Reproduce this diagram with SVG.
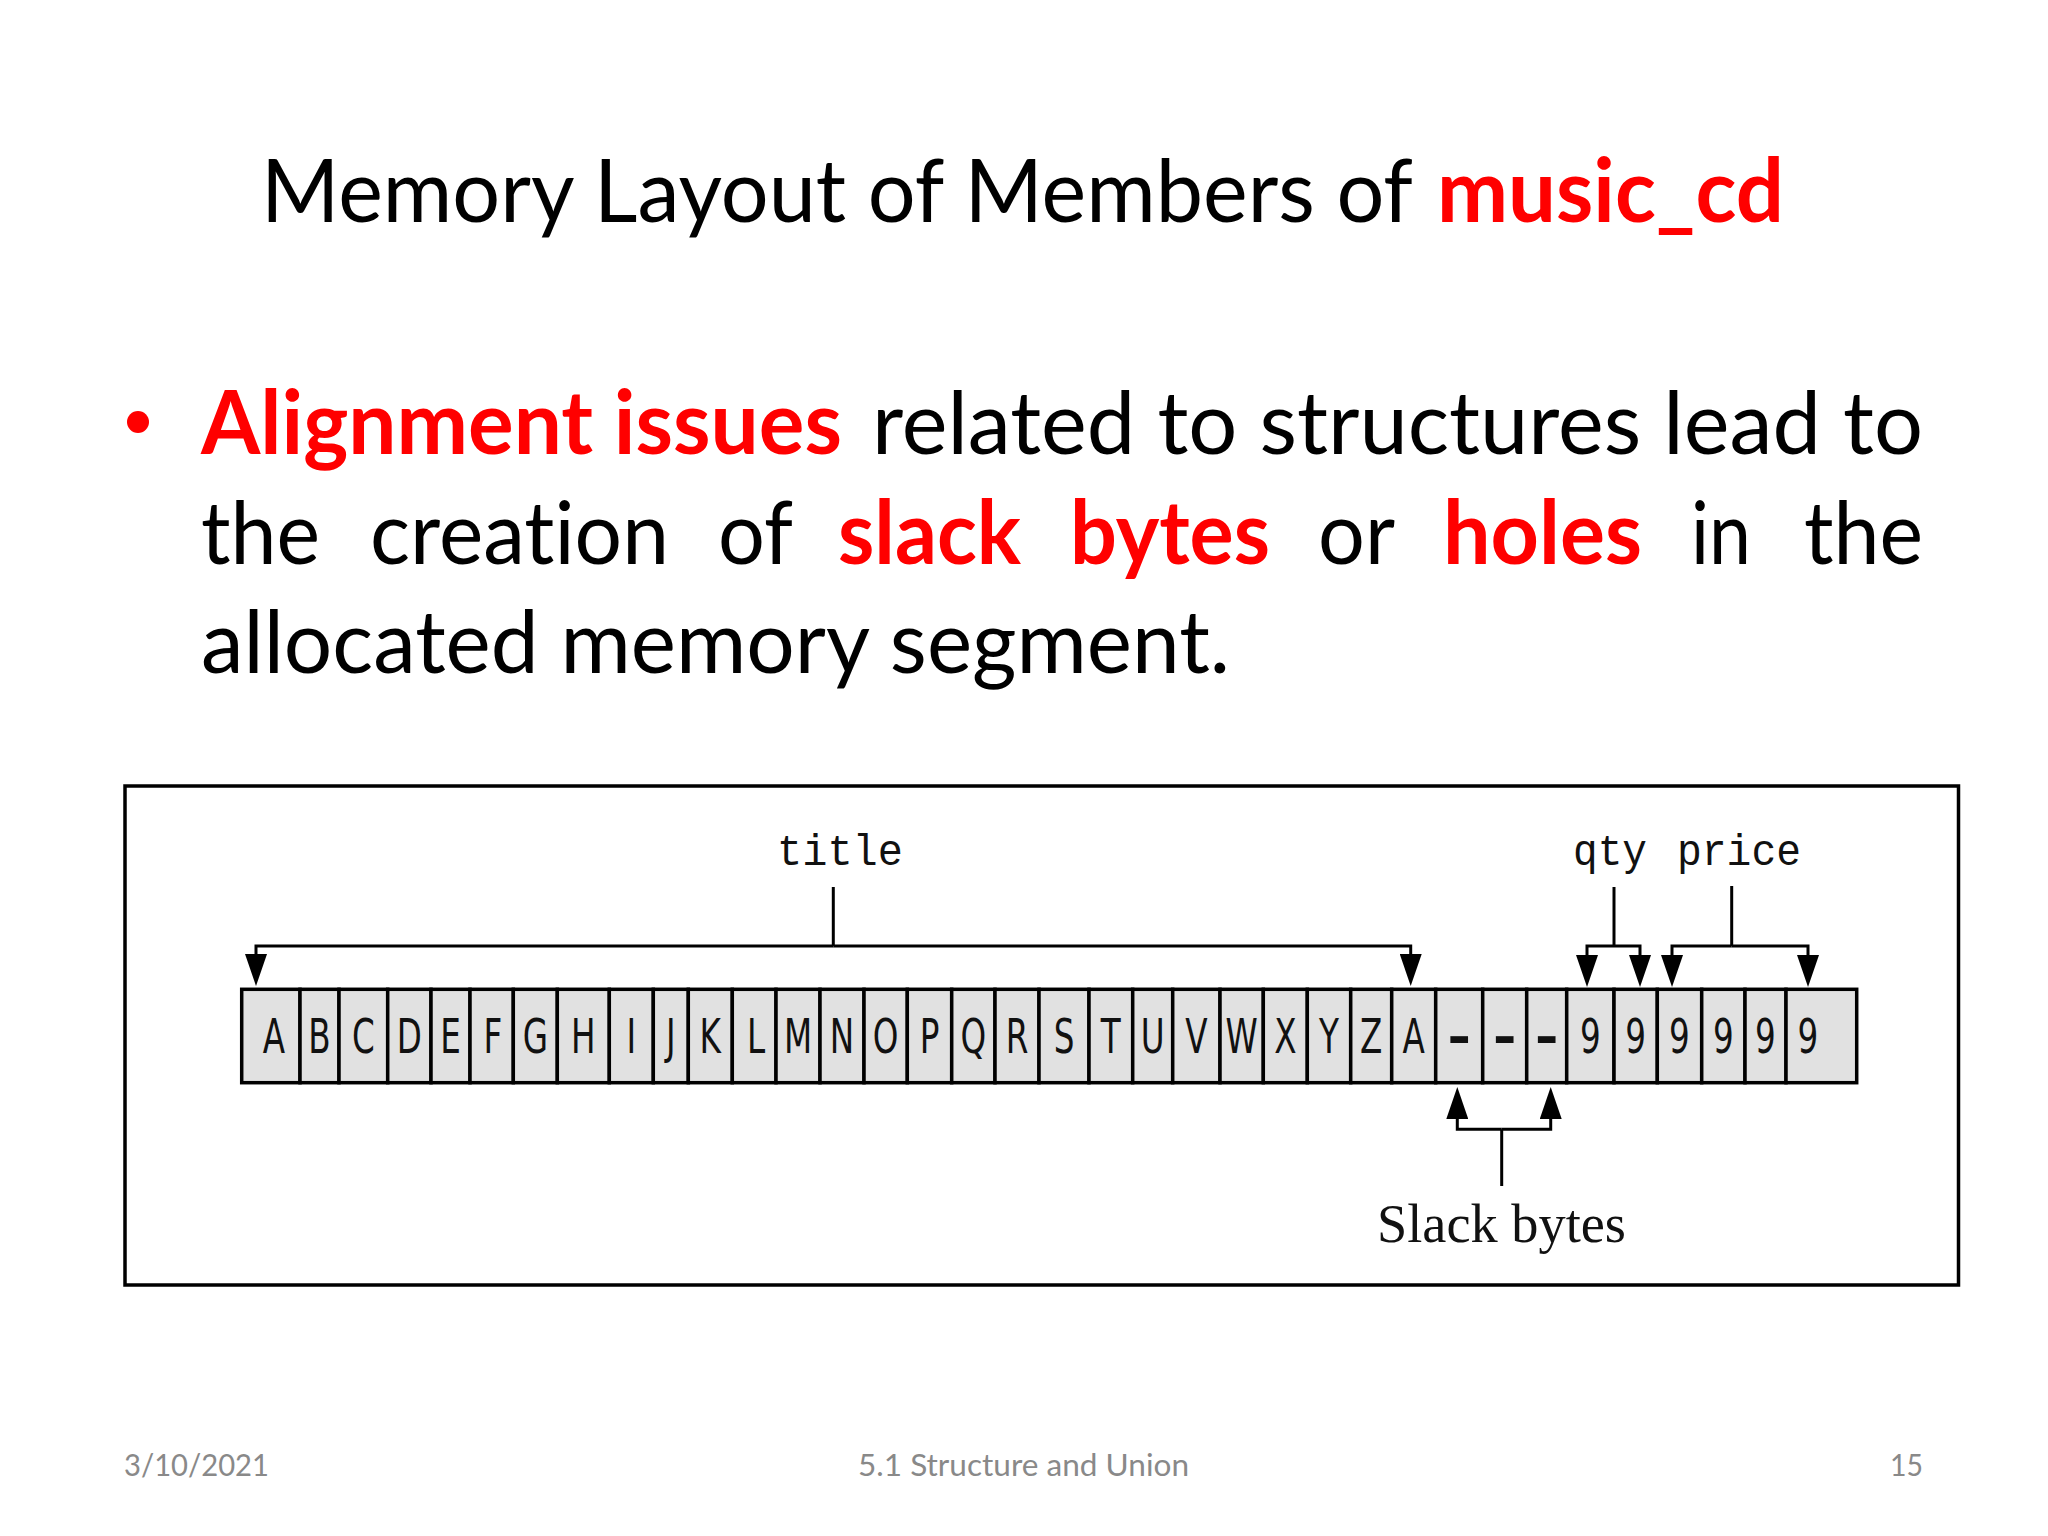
<svg xmlns="http://www.w3.org/2000/svg" width="2048" height="1536" viewBox="0 0 2048 1536">
<defs>
<style>
.head{font-family:Lato,"Open Sans","Liberation Sans",sans-serif;font-size:88px;fill:#000;font-variant-ligatures:none;font-feature-settings:"liga" 0,"clig" 0,"dlig" 0}
.red{fill:#ff0000;font-weight:bold}
.foot{font-family:Lato,"Open Sans","Liberation Sans",sans-serif;font-size:30px;fill:#898989}
.cell rect{fill:#e1e1e1;stroke:#000;stroke-width:3.5}
.cell text{font-family:"DejaVu Sans","Liberation Sans",sans-serif;font-size:48px;fill:#111;text-anchor:middle}
.cell text.d{font-weight:bold}
.lbl{font-family:"Liberation Mono","DejaVu Sans Mono",monospace;font-size:44px;fill:#111}
.slack{font-family:"Liberation Serif","DejaVu Serif",serif;font-size:54px;fill:#111}
.ln{fill:none;stroke:#000;stroke-width:3}
.ar{fill:#000}
</style>
<marker id="arw" viewBox="0 0 32 22" refX="22" refY="11" markerWidth="32" markerHeight="22" markerUnits="userSpaceOnUse" orient="auto">
<path d="M0,0 L32,11 L0,22 Z" class="ar"/>
</marker>
</defs>
<rect width="2048" height="1536" fill="#fff"/>

<g id="heading">
<text class="head" x="261" y="222" textLength="1152" lengthAdjust="spacingAndGlyphs">Memory Layout of Members of</text>
<text class="head red" x="1437" y="222" textLength="347" lengthAdjust="spacingAndGlyphs">music_cd</text>
</g>

<g id="bullet-text">
<circle cx="138" cy="422" r="11" fill="#ff0000"/>
<text class="head red" x="201" y="454" textLength="641" lengthAdjust="spacingAndGlyphs">Alignment issues</text>
<text class="head" x="872" y="454" textLength="1051" lengthAdjust="spacingAndGlyphs">related to structures lead to</text>
<text class="head" x="201" y="564" textLength="119" lengthAdjust="spacingAndGlyphs">the</text>
<text class="head" x="370" y="564" textLength="299" lengthAdjust="spacingAndGlyphs">creation</text>
<text class="head" x="718" y="564" textLength="75" lengthAdjust="spacingAndGlyphs">of</text>
<text class="head red" x="838" y="564" textLength="183" lengthAdjust="spacingAndGlyphs">slack</text>
<text class="head red" x="1070" y="564" textLength="200" lengthAdjust="spacingAndGlyphs">bytes</text>
<text class="head" x="1318" y="564" textLength="77" lengthAdjust="spacingAndGlyphs">or</text>
<text class="head red" x="1443" y="564" textLength="199" lengthAdjust="spacingAndGlyphs">holes</text>
<text class="head" x="1691" y="564" textLength="60" lengthAdjust="spacingAndGlyphs">in</text>
<text class="head" x="1804" y="564" textLength="119" lengthAdjust="spacingAndGlyphs">the</text>
<text class="head" x="201" y="673" textLength="1029" lengthAdjust="spacingAndGlyphs">allocated memory segment.</text>
</g>

<rect id="frame" x="125" y="786" width="1833.5" height="499" fill="none" stroke="#000" stroke-width="3.5"/>

<g id="cells">
<g class="cell" id="c1"><rect x="241.7" y="989.3" width="58.3" height="93.4"/><text transform="translate(274 1053) scale(0.68 1)">A</text></g>
<g class="cell" id="c2"><rect x="300" y="989.3" width="39" height="93.4"/><text transform="translate(319.5 1053) scale(0.68 1)">B</text></g>
<g class="cell" id="c3"><rect x="339" y="989.3" width="48.7" height="93.4"/><text transform="translate(363.3 1053) scale(0.68 1)">C</text></g>
<g class="cell" id="c4"><rect x="387.7" y="989.3" width="43.3" height="93.4"/><text transform="translate(409.3 1053) scale(0.68 1)">D</text></g>
<g class="cell" id="c5"><rect x="431" y="989.3" width="39" height="93.4"/><text transform="translate(450.5 1053) scale(0.68 1)">E</text></g>
<g class="cell" id="c6"><rect x="470" y="989.3" width="43.3" height="93.4"/><text transform="translate(493 1053) scale(0.68 1)">F</text></g>
<g class="cell" id="c7"><rect x="513.3" y="989.3" width="44" height="93.4"/><text transform="translate(535.3 1053) scale(0.68 1)">G</text></g>
<g class="cell" id="c8"><rect x="557.3" y="989.3" width="52" height="93.4"/><text transform="translate(583.3 1053) scale(0.68 1)">H</text></g>
<g class="cell" id="c9"><rect x="609.3" y="989.3" width="44" height="93.4"/><text transform="translate(631.3 1053) scale(0.68 1)">I</text></g>
<g class="cell" id="c10"><rect x="653.3" y="989.3" width="35" height="93.4"/><text transform="translate(670.8 1053) scale(0.68 1)">J</text></g>
<g class="cell" id="c11"><rect x="688.3" y="989.3" width="44" height="93.4"/><text transform="translate(710.3 1053) scale(0.68 1)">K</text></g>
<g class="cell" id="c12"><rect x="732.3" y="989.3" width="43.7" height="93.4"/><text transform="translate(756 1053) scale(0.68 1)">L</text></g>
<g class="cell" id="c13"><rect x="776" y="989.3" width="44" height="93.4"/><text transform="translate(798 1053) scale(0.68 1)">M</text></g>
<g class="cell" id="c14"><rect x="820" y="989.3" width="44" height="93.4"/><text transform="translate(842 1053) scale(0.68 1)">N</text></g>
<g class="cell" id="c15"><rect x="864" y="989.3" width="43.3" height="93.4"/><text transform="translate(885.7 1053) scale(0.68 1)">O</text></g>
<g class="cell" id="c16"><rect x="907.3" y="989.3" width="44.4" height="93.4"/><text transform="translate(929.5 1053) scale(0.68 1)">P</text></g>
<g class="cell" id="c17"><rect x="951.7" y="989.3" width="43.3" height="93.4"/><text transform="translate(973.3 1053) scale(0.68 1)">Q</text></g>
<g class="cell" id="c18"><rect x="995" y="989.3" width="44" height="93.4"/><text transform="translate(1017 1053) scale(0.68 1)">R</text></g>
<g class="cell" id="c19"><rect x="1039" y="989.3" width="50" height="93.4"/><text transform="translate(1064 1053) scale(0.68 1)">S</text></g>
<g class="cell" id="c20"><rect x="1089" y="989.3" width="43.7" height="93.4"/><text transform="translate(1110.8 1053) scale(0.68 1)">T</text></g>
<g class="cell" id="c21"><rect x="1132.7" y="989.3" width="40" height="93.4"/><text transform="translate(1152.7 1053) scale(0.68 1)">U</text></g>
<g class="cell" id="c22"><rect x="1172.7" y="989.3" width="47.3" height="93.4"/><text transform="translate(1196.3 1053) scale(0.68 1)">V</text></g>
<g class="cell" id="c23"><rect x="1220" y="989.3" width="43.3" height="93.4"/><text transform="translate(1241.7 1053) scale(0.68 1)">W</text></g>
<g class="cell" id="c24"><rect x="1263.3" y="989.3" width="44" height="93.4"/><text transform="translate(1285.3 1053) scale(0.68 1)">X</text></g>
<g class="cell" id="c25"><rect x="1307.3" y="989.3" width="43.4" height="93.4"/><text transform="translate(1329 1053) scale(0.68 1)">Y</text></g>
<g class="cell" id="c26"><rect x="1350.7" y="989.3" width="41" height="93.4"/><text transform="translate(1371.2 1053) scale(0.68 1)">Z</text></g>
<g class="cell" id="c27"><rect x="1391.7" y="989.3" width="44" height="93.4"/><text transform="translate(1413.7 1053) scale(0.68 1)">A</text></g>
<g class="cell" id="c28"><rect x="1435.7" y="989.3" width="47" height="93.4"/><text class="d" transform="translate(1459.2 1053) scale(1.2 1)">-</text></g>
<g class="cell" id="c29"><rect x="1482.7" y="989.3" width="44" height="93.4"/><text class="d" transform="translate(1504.7 1053) scale(1.2 1)">-</text></g>
<g class="cell" id="c30"><rect x="1526.7" y="989.3" width="40" height="93.4"/><text class="d" transform="translate(1546.7 1053) scale(1.2 1)">-</text></g>
<g class="cell" id="c31"><rect x="1566.7" y="989.3" width="47.3" height="93.4"/><text transform="translate(1590.3 1053) scale(0.68 1)">9</text></g>
<g class="cell" id="c32"><rect x="1614" y="989.3" width="43.3" height="93.4"/><text transform="translate(1635.7 1053) scale(0.68 1)">9</text></g>
<g class="cell" id="c33"><rect x="1657.3" y="989.3" width="44.4" height="93.4"/><text transform="translate(1679.5 1053) scale(0.68 1)">9</text></g>
<g class="cell" id="c34"><rect x="1701.7" y="989.3" width="43.3" height="93.4"/><text transform="translate(1723.3 1053) scale(0.68 1)">9</text></g>
<g class="cell" id="c35"><rect x="1745" y="989.3" width="41" height="93.4"/><text transform="translate(1765.5 1053) scale(0.68 1)">9</text></g>
<g class="cell" id="c36"><rect x="1786" y="989.3" width="70.7" height="93.4"/><text transform="translate(1808 1053) scale(0.68 1)">9</text></g>
</g>

<g id="label-title"><text class="lbl" x="777" y="865" textLength="126" lengthAdjust="spacingAndGlyphs">title</text></g>
<g id="label-qty"><text class="lbl" x="1573" y="865" textLength="74" lengthAdjust="spacingAndGlyphs">qty</text></g>
<g id="label-price"><text class="lbl" x="1677" y="865" textLength="124" lengthAdjust="spacingAndGlyphs">price</text></g>
<g id="label-slack"><text class="slack" x="1377" y="1242" textLength="249" lengthAdjust="spacingAndGlyphs">Slack bytes</text></g>

<g id="connectors">
<path class="ln" d="M833.3,887 V946"/>
<path class="ln" d="M833.3,946 H256 V976" marker-end="url(#arw)"/>
<path class="ln" d="M833.3,946 H1410.7 V976" marker-end="url(#arw)"/>
<path class="ln" d="M1614,887 V946"/>
<path class="ln" d="M1614,946 H1587 V977" marker-end="url(#arw)"/>
<path class="ln" d="M1614,946 H1640 V977" marker-end="url(#arw)"/>
<path class="ln" d="M1731.7,886 V946"/>
<path class="ln" d="M1731.7,946 H1672 V977" marker-end="url(#arw)"/>
<path class="ln" d="M1731.7,946 H1808 V977" marker-end="url(#arw)"/>
<path class="ln" d="M1501.7,1186 V1129.3"/>
<path class="ln" d="M1501.7,1129.3 H1457.3 V1097" marker-end="url(#arw)"/>
<path class="ln" d="M1501.7,1129.3 H1550.7 V1097" marker-end="url(#arw)"/>
</g>

<g id="footer">
<text class="foot" x="124" y="1476" textLength="145" lengthAdjust="spacingAndGlyphs">3/10/2021</text>
<text class="foot" x="858" y="1476" textLength="331" lengthAdjust="spacingAndGlyphs">5.1 Structure and Union</text>
<text class="foot" x="1890" y="1476" textLength="33" lengthAdjust="spacingAndGlyphs">15</text>
</g>
</svg>
